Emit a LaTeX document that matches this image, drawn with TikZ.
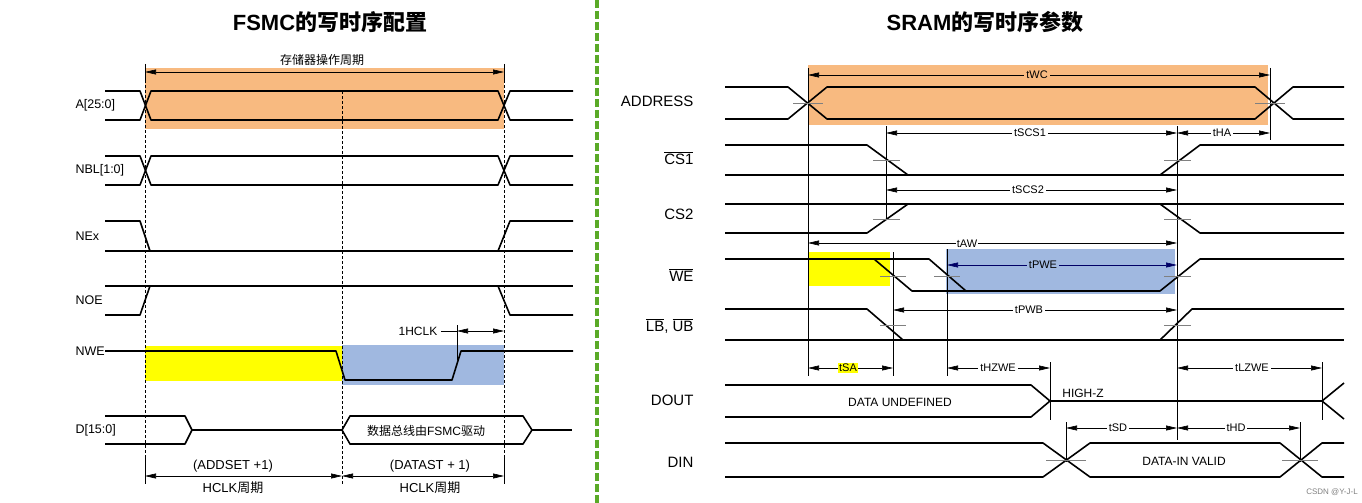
\documentclass[tikz,border=0pt]{standalone}
\usepackage{fontspec}
\setmainfont{Liberation Sans}
\newfontfamily\cjk{Noto Sans CJK SC}
\usetikzlibrary{arrows.meta}
\definecolor{org}{RGB}{248,186,128}
\definecolor{yel}{RGB}{255,255,0}
\definecolor{blu}{RGB}{160,184,224}
\definecolor{grn}{RGB}{90,170,40}
\begin{document}
\begin{tikzpicture}[x=1pt,y=-1pt,
 sig/.style={line width=1.6pt,line join=round},
 dim/.style={line width=0.6pt,{Triangle[length=11pt,width=5pt]}-{Triangle[length=11pt,width=5pt]}},
 vl/.style={line width=0.6pt},
 dl/.style={line width=0.6pt,dash pattern=on 3pt off 2pt},
 tk/.style={line width=0.5pt,gray},
 lab/.style={font=\fontsize{12.5}{13}\selectfont},
 rlab/.style={font=\fontsize{15}{15}\selectfont,anchor=east},
 sm/.style={font=\fontsize{11}{11}\selectfont,fill=white,inner sep=2pt},
 title/.style={font=\fontsize{22}{22}\selectfont\bfseries}]
\path[use as bounding box] (0,0) rectangle (1362,503);
% ===== LEFT =====
\node[title] (t1) at (330,22) {FSMC{\cjk 的写时序配置}};
\fill[org] (145,68) rectangle (504,129);
\fill[yel] (145,346) rectangle (342,381);
\fill[blu] (342,345) rectangle (504,385);
\draw[dl] (145,80) -- (145,484); \draw[dl] (342,91) -- (342,484); \draw[dl] (504,80) -- (504,484);
\draw[vl] (145,64) -- (145,80); \draw[vl] (504,64) -- (504,80);
\draw[vl] (145,455) -- (145,484); \draw[vl] (504,455) -- (504,484);
\coordinate (La) at (145,72); \coordinate (Lb) at (504,72);
\draw[dim] (La) -- (Lb);
\node[font=\fontsize{12}{12}\selectfont\cjk,inner sep=1pt] (top) at (322,60) {存储器操作周期};
% labels
\node[lab,anchor=west] (la) at (72,105) {A[25:0]};
\node[lab,anchor=west] (lb) at (72,170) {NBL[1:0]};
\node[lab,anchor=west] (lc) at (72,236) {NEx};
\node[lab,anchor=west] (ld) at (72,300) {NOE};
\node[lab,anchor=west] (le) at (72,351) {NWE};
\node[lab,anchor=west] (lf) at (72,430) {D[15:0]};
% A
\draw[sig] (105,91)--(140,91)--(151,120)--(498,120)--(510,91)--(573,91);
\draw[sig] (105,120)--(140,120)--(151,91)--(498,91)--(510,120)--(573,120);
% NBL
\draw[sig] (105,156)--(140,156)--(151,185)--(498,185)--(510,156)--(573,156);
\draw[sig] (105,185)--(140,185)--(151,156)--(498,156)--(510,185)--(573,185);
% NEx
\draw[sig] (105,221)--(140,221)--(150,251); \draw[sig] (105,251)--(573,251);
\draw[sig] (498,251)--(510,221)--(573,221);
% NOE
\draw[sig] (105,315)--(140,315)--(150,286); \draw[sig] (105,286)--(573,286);
\draw[sig] (498,286)--(510,315)--(573,315);
% NWE
\draw[sig] (105,351)--(336,351)--(345,380)--(452,380)--(461,351)--(573,351);
\draw[vl] (457,325)--(457,360);
\node[font=\fontsize{12}{12}\selectfont] (hc) at (418,331) {1HCLK};
\draw[vl] (hc.east) -- (457,331);
\draw[dim] (457,331) -- (504,331);
% D
\draw[sig] (105,416)--(185,416)--(192,430)--(185,444)--(105,444);
\draw[sig] (192,430)--(342,430)--(350,416)--(523,416)--(532,430)--(523,444)--(350,444)--(342,430);
\draw[sig] (532,430)--(572,430);
\node[font=\fontsize{12}{12}\selectfont] (db) at (426,431) {{\cjk 数据总线由}FSMC{\cjk 驱动}};
% bottom dims
\draw[dim] (145,476) -- (342,476); \draw[dim] (342,476) -- (504,476);
\node[font=\fontsize{13}{13}\selectfont] (ad) at (233,466) {(ADDSET +1)};
\node[font=\fontsize{13}{13}\selectfont] (ad2) at (233,488) {HCLK{\cjk 周期}};
\node[font=\fontsize{13}{13}\selectfont] (da) at (430,466) {(DATAST + 1)};
\node[font=\fontsize{13}{13}\selectfont] (da2) at (430,488) {HCLK{\cjk 周期}};
% divider
\draw[grn,line width=3.5pt,dash pattern=on 8pt off 3pt] (597,0) -- (597,503);
% ===== RIGHT =====
\node[title] (t2) at (985,22) {SRAM{\cjk 的写时序参数}};
\fill[org] (808,65) rectangle (1268,125);
\fill[yel] (808,252) rectangle (890,286);
\fill[blu] (946,249) rectangle (1175,294);
\node[rlab] (ra) at (697,101) {ADDRESS};
\node[rlab] (rb) at (697,158) {$\overline{\mbox{CS1}}$};
\node[rlab] (rc) at (697,214) {CS2};
\node[rlab] (rd) at (697,275) {$\overline{\mbox{WE}}$};
\node[rlab] (re) at (697,326) {$\overline{\mbox{LB}}$, $\overline{\mbox{UB}}$};
\node[rlab] (rf) at (697,400) {DOUT};
\node[rlab] (rg) at (697,462) {DIN};
% verticals
\draw[vl] (808,68)--(808,376);
\draw[vl] (1270,68)--(1270,140);
\draw[vl] (886,126)--(886,220);
\draw[vl] (893,252)--(893,376);
\draw[vl] (947,249)--(947,376);
\draw[vl] (1177,126)--(1177,440);
\draw[vl] (1050,362)--(1050,420);
\draw[vl] (1322,362)--(1322,420);
\draw[vl] (1066,422)--(1066,462);
\draw[vl] (1300,422)--(1300,462);
% ADDRESS
\draw[sig] (725,87)--(788,87)--(827,119)--(1255,119)--(1293,87)--(1344,87);
\draw[sig] (725,119)--(788,119)--(827,87)--(1255,87)--(1293,119)--(1344,119);
\draw[tk] (793,103)--(823,103); \draw[tk] (1255,103)--(1285,103);
\draw[dim] (808,75)--(1270,75); \node[sm,fill=org] (twc) at (1037,75) {tWC};
% CS1
\draw[sig] (725,145)--(867,145)--(908,175)--(1160,175)--(1200,145)--(1344,145);
\draw[sig] (725,175)--(908,175); \draw[sig] (1160,175)--(1344,175);
\draw[tk] (873,160)--(900,160); \draw[tk] (1164,160)--(1191,160);
\draw[dim] (886,133)--(1177,133); \node[sm] (s1) at (1030,133) {tSCS1};
\draw[dim] (1177,133)--(1270,133); \node[sm] (ha) at (1222,133) {tHA};
% CS2
\draw[sig] (725,233)--(867,233)--(908,204)--(1160,204)--(1200,233)--(1344,233);
\draw[sig] (725,204)--(908,204); \draw[sig] (1160,204)--(1344,204);
\draw[tk] (873,219)--(900,219); \draw[tk] (1164,219)--(1191,219);
\draw[dim] (886,190)--(1177,190); \node[sm] (s2) at (1028,190) {tSCS2};
% WE
\draw[dim] (808,243)--(1177,243); \node[sm,inner sep=1pt] (aw) at (967,244) {tAW};
\draw[sig] (725,259)--(929,259)--(966,291);
\draw[sig] (874,259)--(912,291)--(1160,291)--(1200,259)--(1344,259);
\draw[tk] (880,276)--(906,276); \draw[tk] (934,276)--(960,276); \draw[tk] (1164,276)--(1191,276);
\draw[dim,draw=blue!40!black] (947,265)--(1177,265); \node[sm,fill=blu] (pwe) at (1043,265) {tPWE};
% LB UB
\draw[sig] (725,309)--(867,309)--(903,340)--(1160,340)--(1192,309)--(1344,309);
\draw[sig] (725,340)--(903,340); \draw[sig] (1160,340)--(1344,340);
\draw[tk] (880,325)--(906,325); \draw[tk] (1164,325)--(1191,325);
\draw[dim] (893,310)--(1177,310); \node[sm] (pwb) at (1029,310) {tPWB};
% row dims
\draw[dim] (808,368)--(893,368); \node[sm,fill=yel,inner sep=1pt] (sa) at (848,368) {tSA};
\draw[dim] (947,368)--(1050,368); \node[sm] (hz) at (998,368) {tHZWE};
\draw[dim] (1177,368)--(1322,368); \node[sm] (lz) at (1252,368) {tLZWE};
% DOUT
\draw[sig] (725,385)--(1031,385)--(1050,401)--(1031,417)--(725,417);
\draw[sig] (1050,401)--(1322,401)--(1344,383); \draw[sig] (1322,401)--(1344,419);
\node[font=\fontsize{12}{12}\selectfont] (du) at (900,402) {DATA UNDEFINED};
\node[font=\fontsize{12}{12}\selectfont] (hiz) at (1083,393) {HIGH-Z};
% DIN
\draw[sig] (725,443)--(1043,443)--(1090,477)--(1280,477)--(1322,443)--(1344,443);
\draw[sig] (725,477)--(1043,477)--(1090,443)--(1280,443)--(1322,477)--(1344,477);
\draw[tk] (1046,460)--(1086,460); \draw[tk] (1282,460)--(1318,460);
\draw[dim] (1066,428)--(1177,428); \node[sm] (sd) at (1118,428) {tSD};
\draw[dim] (1177,428)--(1300,428); \node[sm] (hd) at (1236,428) {tHD};
\node[font=\fontsize{12}{12}\selectfont] (dv) at (1184,461) {DATA-IN VALID};
\node[font=\fontsize{8}{8}\selectfont,gray] (wm) at (1332,492) {CSDN @Y-J-L};
\end{tikzpicture}
\end{document}
